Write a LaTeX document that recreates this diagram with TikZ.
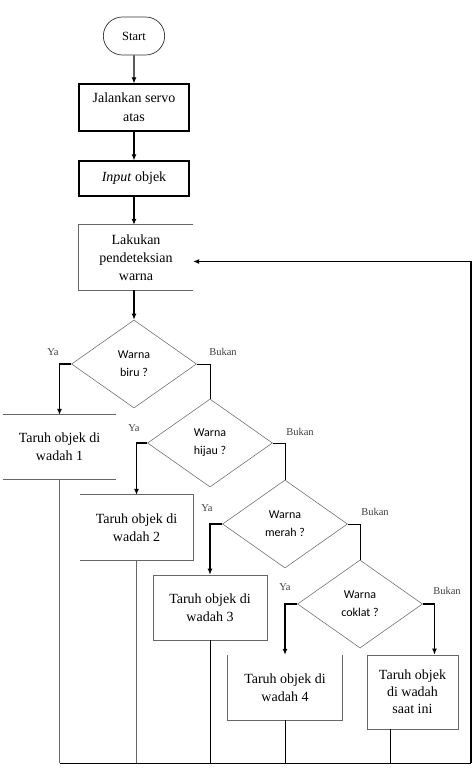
\documentclass[tikz,border=0pt]{standalone}
\usepackage{fontspec}
\setmainfont{Liberation Serif}
\newfontfamily\warnafont{Carlito}
\usetikzlibrary{shapes.geometric,shapes.misc,arrows.meta}
\tikzset{
  mulai/.style={rounded rectangle, draw=black!80, line width=0.7pt, minimum width=68pt, minimum height=38pt, font=\fontsize{12.5}{14}\selectfont},
  proses/.style={draw, line width=1.2pt, minimum width=110pt, align=center, inner sep=0pt, font=\fontsize{14}{19}\selectfont},
  tujuan/.style={align=center, inner sep=0pt, font=\fontsize{14}{18}\selectfont},
  tanya/.style={diamond, draw=black!55, line width=0.6pt, minimum width=125pt, minimum height=88pt, inner sep=0pt, align=center, font=\warnafont\fontsize{12}{18}\selectfont},
  jawab/.style={font=\fontsize{10.5}{11}\selectfont, text=black!75},
  tepi/.style={draw=black!60, line width=0.7pt},
  alir/.style={-{Latex[length=6pt,width=5pt]}, line width=1.1pt},
  garis/.style={line width=1pt},
}
\begin{document}
\begin{tikzpicture}[x=1pt,y=-1pt]
  \useasboundingbox (0,0) rectangle (474,770);

  % Urutan awal
  \node[mulai] (start) at (134,36) {Start};
  \node[proses, minimum height=47pt] (servo) at (134,107.5) {Jalankan servo\\atas};
  \node[proses, minimum height=35pt] (input) at (134,178.5) {\textit{Input} objek};
  \node[tujuan, minimum width=114pt, minimum height=65pt] (deteksi) at (136,257.5) {Lakukan\\pendeteksian\\warna};
  \draw[tepi] (deteksi.north east) -- (deteksi.north west) -- (deteksi.south west) -- (deteksi.south east);

  % Keputusan warna
  \node[tanya] (biru) at (134,364) {Warna\\biru ?};
  \node[tanya] (hijau) at (210,443) {Warna\\hijau ?};
  \node[tanya] (merah) at (285,524) {Warna\\merah ?};
  \node[tanya] (coklat) at (360,604) {Warna\\coklat ?};

  % Wadah
  \node[tujuan, minimum width=113pt, minimum height=64pt] (wadah1) at (59.5,447) {Taruh objek di\\wadah 1};
  \node[tujuan, minimum width=113pt, minimum height=65pt] (wadah2) at (136.5,527.5) {Taruh objek di\\wadah 2};
  \node[tujuan, tepi, minimum width=114pt, minimum height=65pt] (wadah3) at (210,607.5) {Taruh objek di\\wadah 3};
  \node[tujuan, minimum width=114pt, minimum height=65pt] (wadah4) at (285,687.5) {Taruh objek di\\wadah 4};
  \node[tujuan, tepi, minimum width=91pt, minimum height=74pt, font=\fontsize{14}{17}\selectfont] (wadah5) at (412.5,692) {Taruh objek\\di wadah\\saat ini};
  \draw[tepi] (wadah1.north west) -- (wadah1.north east);
  \draw[tepi] (wadah1.south west) -- (wadah1.south east);
  \draw[tepi] (wadah2.north west) -- (wadah2.north east) -- (wadah2.south east) -- (wadah2.south west);
  \draw[tepi] (wadah4.north west) -- (wadah4.south west) -- (wadah4.south east) -- (wadah4.north east);

  % Label jawaban
  \node[jawab] (ya1) at (53,352) {Ya};
  \node[jawab] (bukan1) at (223,352) {Bukan};
  \node[jawab] (ya2) at (134,428) {Ya};
  \node[jawab] (bukan2) at (300,432) {Bukan};
  \node[jawab] (ya3) at (207,508) {Ya};
  \node[jawab] (bukan3) at (375,512) {Bukan};
  \node[jawab] (ya4) at (285,587) {Ya};
  \node[jawab] (bukan4) at (447,591) {Bukan};

  % Alir utama
  \draw[alir] (start) -- (servo);
  \draw[alir] (servo) -- (input);
  \draw[alir] (input.south) -- (input.south |- deteksi.north);
  \draw[alir] (deteksi.south -| input.south) -- (biru.north);

  \draw[alir] (biru.west) -| (wadah1.north);
  \draw[garis] (biru.east) -| (hijau.north);
  \draw[alir] (hijau.west) -| (wadah2.north);
  \draw[garis] (hijau.east) -| (merah.north);
  \draw[alir] (merah.west) -| (wadah3.north);
  \draw[garis] (merah.east) -| (coklat.north);
  \draw[alir] (coklat.west) -| (wadah4.north);
  \draw[alir] (coklat.east) -| ([xshift=22pt]wadah5.north);

  % Kembali ke deteksi
  \coordinate (pojok) at (471,763);
  \draw[tepi] (wadah1.south) -- (wadah1.south |- pojok);
  \draw[tepi] (wadah2.south) -- (wadah2.south |- pojok);
  \draw[garis] (wadah3.south) -- (wadah3.south |- pojok);
  \draw[garis] (wadah4.south) -- (wadah4.south |- pojok);
  \draw[garis] ([xshift=-22pt]wadah5.south) -- ([xshift=-22pt]wadah5.south |- pojok);
  \draw[garis] (wadah1.south |- pojok) -- (pojok);
  \draw[alir] (pojok) |- ([yshift=-4pt]deteksi.east);
\end{tikzpicture}
\end{document}
